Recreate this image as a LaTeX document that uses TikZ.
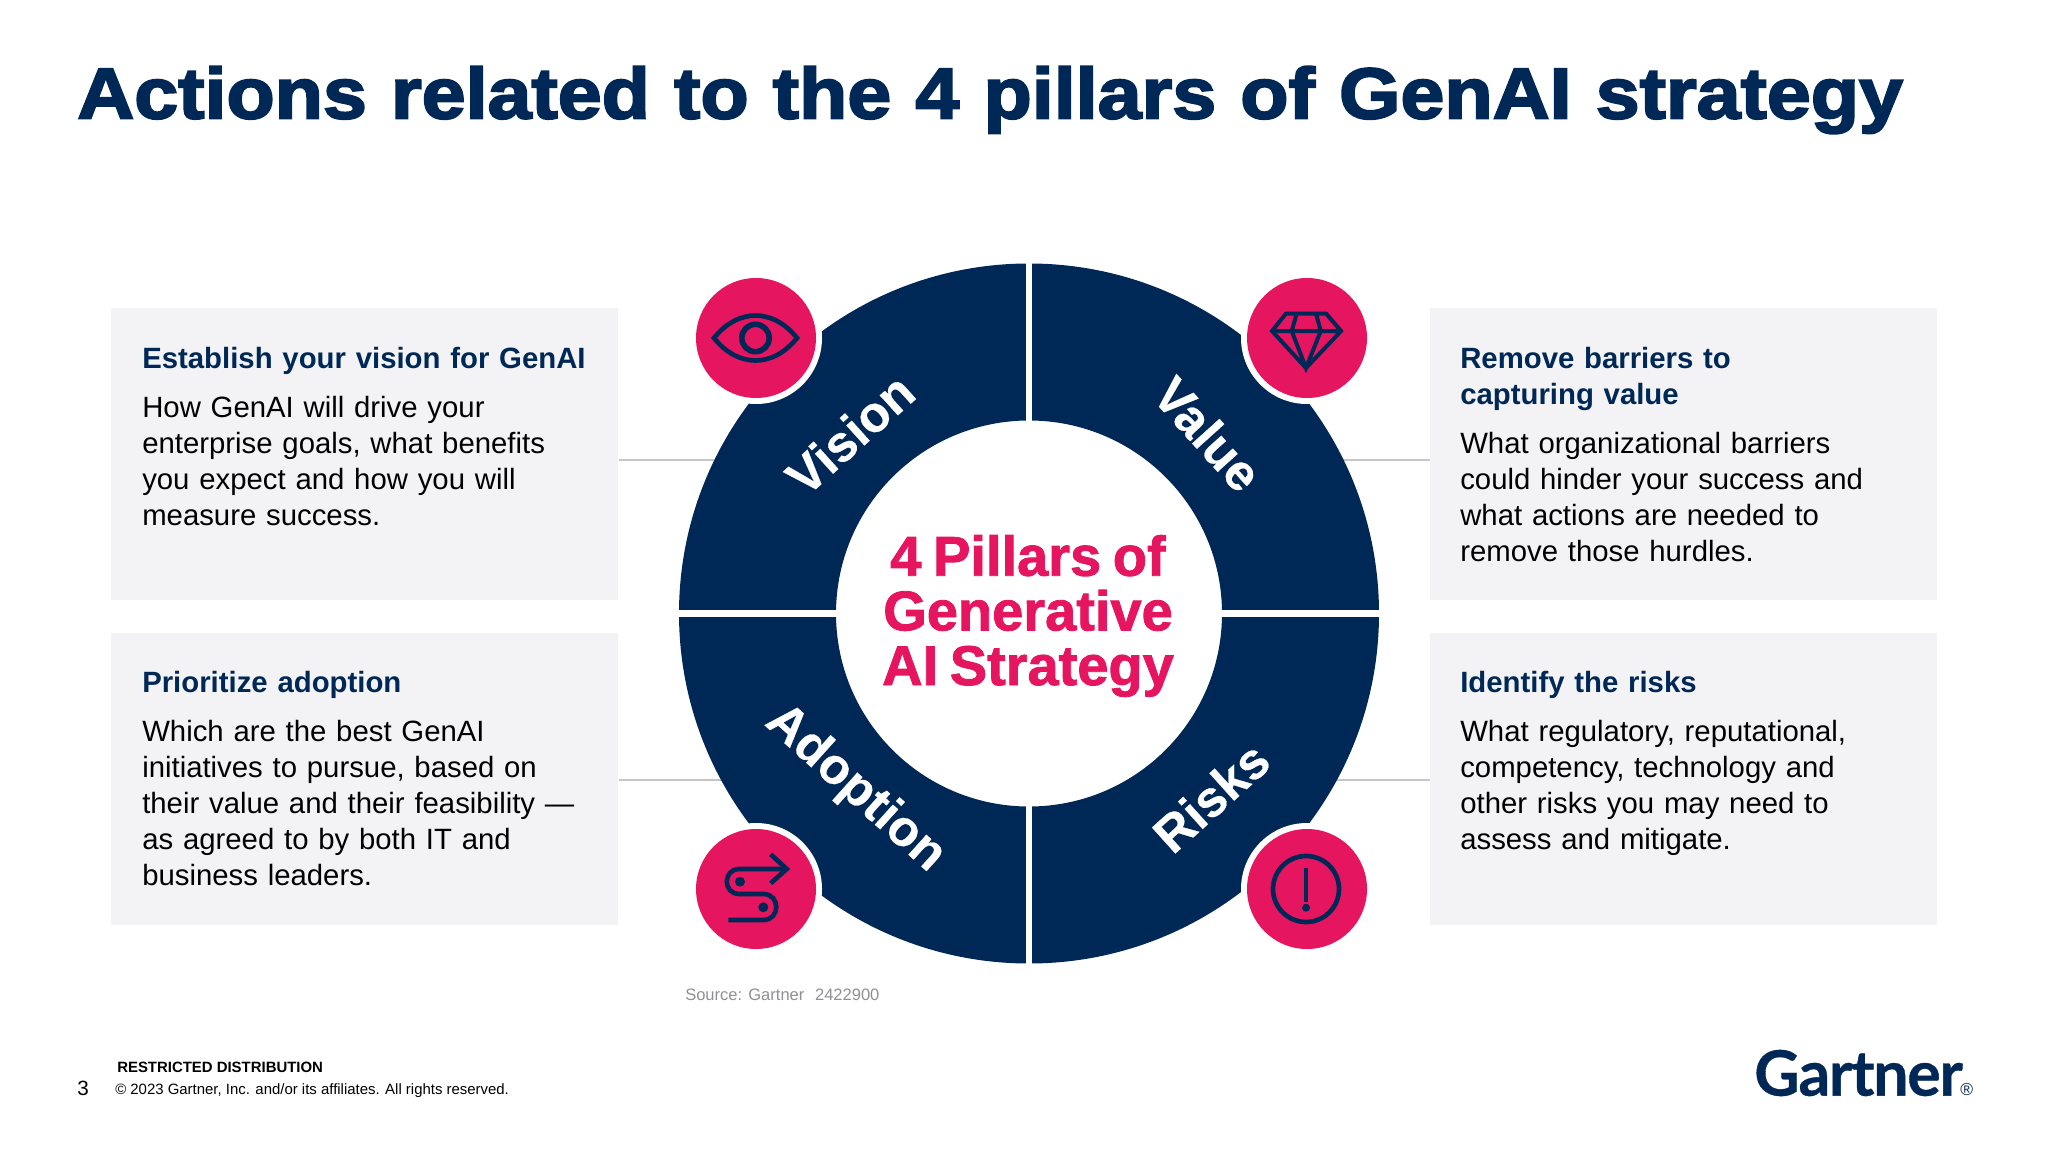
\documentclass[tikz,border=0pt]{standalone}
\usepackage{fontspec}
\setmainfont{Liberation Sans}
\newfontfamily\titlefont[FakeBold=2.8,FakeStretch=1.097,WordSpace=1.1]{Liberation Sans Bold}
\newfontfamily\midfont[FakeBold=1.5,WordSpace=0.75]{Liberation Sans Bold}
\newfontfamily\pillarfont[FakeBold=0.5]{Liberation Sans Bold}
\newfontfamily\logofont[FakeBold=0.6,LetterSpace=-2]{Lato Bold}
\definecolor{navy}{HTML}{002856}
\definecolor{pink}{HTML}{E6155F}
\definecolor{boxgray}{HTML}{F3F3F5}
\definecolor{rulegray}{HTML}{C4C6C8}
\definecolor{srcgray}{HTML}{8E9094}
\newcommand{\fs}[2]{\fontsize{#1}{#2}\selectfont}
\newcommand{\hd}[1]{\textcolor{navy}{\bfseries #1}}
\tikzset{
 infobox/.style={fill=boxgray,draw=none,minimum width=507*0.75pt,minimum height=292*0.75pt,anchor=north west,inner sep=0pt},
 boxtext/.style={anchor=north west,align=left,inner sep=0pt,text=black,font=\fs{22}{27},text width=470*0.75pt},
 pillar/.style={text=white,font=\pillarfont\fs{38}{40},inner sep=0pt},
 badge/.style={circle,fill=pink,minimum size=120*0.75pt,inner sep=0pt},
 halo/.style={fill=white},
 ico/.style={draw=navy,line width=3.5pt,line join=miter},
 link/.style={draw=rulegray,line width=1pt},
}
\begin{document}
\begin{tikzpicture}[x=0.75pt,y=-0.75pt]
\useasboundingbox (0,0) rectangle (2048,1152);
\fill[white] (0,0) rectangle (2048,1152);
\node[anchor=west,inner sep=0pt,text=navy,font=\titlefont\fs{54}{60}] (title) at (77,100) {Actions related to the 4 pillars of GenAI strategy};
% boxes
\node[infobox] (b1) at (111,308) {};
\node[infobox] (b2) at (111,632.5) {};
\node[infobox] (b3) at (1430,308) {};
\node[infobox] (b4) at (1430,632.5) {};
\coordinate (c) at (1029,613.5);
% connectors
\coordinate (l1) at (760,460);
\coordinate (l2) at (760,780);
\coordinate (l3) at (1300,460);
\coordinate (l4) at (1300,780);
\draw[link] (b1.east |- l1) -- (l1);
\draw[link] (b2.east |- l2) -- (l2);
\draw[link] (b3.west |- l3) -- (l3);
\draw[link] (b4.west |- l4) -- (l4);
% ring
\fill[navy,even odd rule] (c) circle[radius=350*0.75pt] (c) circle[radius=193*0.75pt];
\fill[white] (1025.7,255) rectangle (1032.3,972);
\fill[white] (670,610.2) rectangle (1388,616.8);
% labels
\node[pillar,rotate=42] (v) at (850,434) {Vision};
\node[pillar,rotate=-48] (va) at (1208,434) {Value};
\node[pillar,rotate=-42] (ad) at (855,789) {Adoption};
\node[pillar,rotate=42] (ri) at (1211,797) {Risks};
% center
\node[align=center,inner sep=0pt,text=pink,font=\midfont\fs{42}{41}] (mid) at (1028,616) {4 Pillars of\\Generative\\AI Strategy};
% badges
\fill[halo] (756,338) circle[radius=66*0.75pt];
\fill[halo] (1307,338) circle[radius=66*0.75pt];
\fill[halo] (756,889) circle[radius=66*0.75pt];
\fill[halo] (1307,889) circle[radius=66*0.75pt];
\node[badge] (bv) at (756,338) {};
\node[badge] (bw) at (1307,338) {};
\node[badge] (ba) at (756,889) {};
\node[badge] (br) at (1307,889) {};
% eye
\draw[ico] (714,338) .. controls (738,308) and (773,308) .. (797,338) .. controls (773,368) and (738,368) .. (714,338) -- cycle;
\draw[ico,line width=4.2pt] (755.5,338) circle[radius=13.7*0.75pt];
% diamond
\draw[ico,line width=3pt] (1286,313.5) -- (1326,313.5) -- (1341,331) -- (1306,368) -- (1272,331) -- cycle
 (1272,331) -- (1341,331) (1296.7,313.5) -- (1291.7,331) -- (1306,368) -- (1320.7,331) -- (1316,313.5);
% route
\draw[ico] (728.3,920) -- (763.3,920) .. controls (780.6,920) and (780.6,894) .. (763.3,894) -- (739.3,894) .. controls (722.6,894) and (722.6,869) .. (739.3,869) -- (786.7,869);
\draw[ico] (770.7,854.3) -- (786.7,869) -- (770.7,883.3);
\fill[navy] (740,881.7) circle[radius=5*0.75pt] (763.3,907.3) circle[radius=5*0.75pt];
% alert
\draw[ico] (1306,889) circle[radius=33*0.75pt];
\draw[ico,line width=3pt] (1306,867.7) -- (1306,901.7);
\fill[navy] (1306,907.7) circle[radius=4*0.75pt];
% box text
\node[boxtext] (t1) at (142,347) {\hd{Establish your vision for GenAI}\\[10pt]How GenAI will drive your\\enterprise goals, what benefits\\you expect and how you will\\measure success.};
\node[boxtext] (t2) at (142,671) {\hd{Prioritize adoption}\\[10pt]Which are the best GenAI\\initiatives to pursue, based on\\their value and their feasibility —\\as agreed to by both IT and\\business leaders.};
\node[boxtext] (t3) at (1460,347) {\hd{Remove barriers to}\\\hd{capturing value}\\[10pt]What organizational barriers\\could hinder your success and\\what actions are needed to\\remove those hurdles.};
\node[boxtext] (t4) at (1460,671) {\hd{Identify the risks}\\[10pt]What regulatory, reputational,\\competency, technology and\\other risks you may need to\\assess and mitigate.};
% footer
\node[anchor=west,inner sep=0pt,text=srcgray,font=\fs{12.4}{14}] (src) at (685,994.5) {Source: Gartner\hspace{8pt}2422900};
\node[anchor=west,inner sep=0pt,font=\fs{11.2}{14}\bfseries] (rd) at (117,1067.5) {RESTRICTED DISTRIBUTION};
\node[anchor=west,inner sep=0pt,font=\fs{11.2}{14}] (cr) at (115,1091) {© 2023 Gartner, Inc. and/or its affiliates. All rights reserved.};
\node[anchor=west,inner sep=0pt,font=\fs{15.5}{18}] (pg) at (77,1088) {3};
\node[anchor=west,inner sep=0pt,text=navy,font=\logofont\fs{47}{52}] (logo) at (1754,1073) {Gartner};
\node[anchor=west,inner sep=0pt,text=navy,font=\fs{13}{14}] (reg) at (1960,1090) {®};
\end{tikzpicture}
\end{document}
